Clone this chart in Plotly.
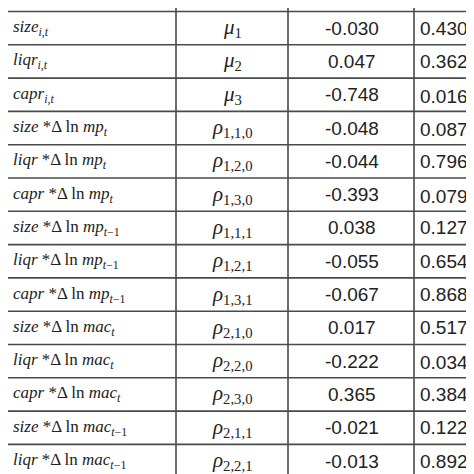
import plotly.graph_objects as go

variables = ["<i>size</i><sub><i>i,t</i></sub>", "<i>liqr</i><sub><i>i,t</i></sub>", "<i>capr</i><sub><i>i,t</i></sub>",
             "<i>size</i> *Δ ln <i>mp</i><sub><i>t</i></sub>", "<i>liqr</i> *Δ ln <i>mp</i><sub><i>t</i></sub>",
             "<i>capr</i> *Δ ln <i>mp</i><sub><i>t</i></sub>", "<i>size</i> *Δ ln <i>mp</i><sub><i>t</i>−1</sub>",
             "<i>liqr</i> *Δ ln <i>mp</i><sub><i>t</i>−1</sub>", "<i>capr</i> *Δ ln <i>mp</i><sub><i>t</i>−1</sub>",
             "<i>size</i> *Δ ln <i>mac</i><sub><i>t</i></sub>", "<i>liqr</i> *Δ ln <i>mac</i><sub><i>t</i></sub>",
             "<i>capr</i> *Δ ln <i>mac</i><sub><i>t</i></sub>", "<i>size</i> *Δ ln <i>mac</i><sub><i>t</i>−1</sub>",
             "<i>liqr</i> *Δ ln <i>mac</i><sub><i>t</i>−1</sub>"]
params = ["<i>μ</i><sub>1</sub>", "<i>μ</i><sub>2</sub>", "<i>μ</i><sub>3</sub>",
          "<i>ρ</i><sub>1,1,0</sub>", "<i>ρ</i><sub>1,2,0</sub>", "<i>ρ</i><sub>1,3,0</sub>",
          "<i>ρ</i><sub>1,1,1</sub>", "<i>ρ</i><sub>1,2,1</sub>", "<i>ρ</i><sub>1,3,1</sub>",
          "<i>ρ</i><sub>2,1,0</sub>", "<i>ρ</i><sub>2,2,0</sub>", "<i>ρ</i><sub>2,3,0</sub>",
          "<i>ρ</i><sub>2,1,1</sub>", "<i>ρ</i><sub>2,2,1</sub>"]
coefs = ["-0.030", "0.047", "-0.748", "-0.048", "-0.044", "-0.393", "0.038", "-0.055", "-0.067",
         "0.017", "-0.222", "0.365", "-0.021", "-0.013"]
pvals = ["0.430", "0.362", "0.016<sup>**</sup>", "0.087<sup>*</sup>", "0.796", "0.079<sup>*</sup>",
         "0.127", "0.654", "0.868", "0.517", "0.034<sup>**</sup>", "0.384", "0.122", "0.892"]

top, rh = 3.5, 33.3
vlines = [168, 280, 406]
lc = "#4a4a4a"
fig = go.Figure()
shapes, ann = [], []
n = len(coefs)
for i in range(n + 1):
    y = top + i * rh
    shapes.append(dict(type="line", x0=0, x1=474, y0=y, y1=y, line=dict(color=lc, width=1.6)))
for x in vlines:
    shapes.append(dict(type="line", x0=x, x1=x, y0=0, y1=474, line=dict(color=lc, width=1.6)))
for i in range(n):
    yc = top + (i + 0.5) * rh
    ann.append(dict(x=3, y=yc, text=variables[i], xanchor="left", showarrow=False,
                    font=dict(family="Liberation Serif", size=17, color="#222")))
    ann.append(dict(x=224, y=yc, text=params[i], showarrow=False,
                    font=dict(family="Liberation Serif", size=21, color="#222")))
    ann.append(dict(x=344, y=yc, text=coefs[i], showarrow=False,
                    font=dict(family="Liberation Sans", size=19, color="#222")))
    ann.append(dict(x=410, y=yc, text=pvals[i], xanchor="left", showarrow=False,
                    font=dict(family="Liberation Sans", size=19, color="#222")))
fig.update_layout(width=474, height=474, margin=dict(l=0, r=0, t=0, b=0),
                  plot_bgcolor="white", paper_bgcolor="white", shapes=shapes, annotations=ann,
                  xaxis=dict(range=[0, 474], visible=False, fixedrange=True),
                  yaxis=dict(range=[474, 0], visible=False, fixedrange=True), showlegend=False)
fig.write_html("out.html")
